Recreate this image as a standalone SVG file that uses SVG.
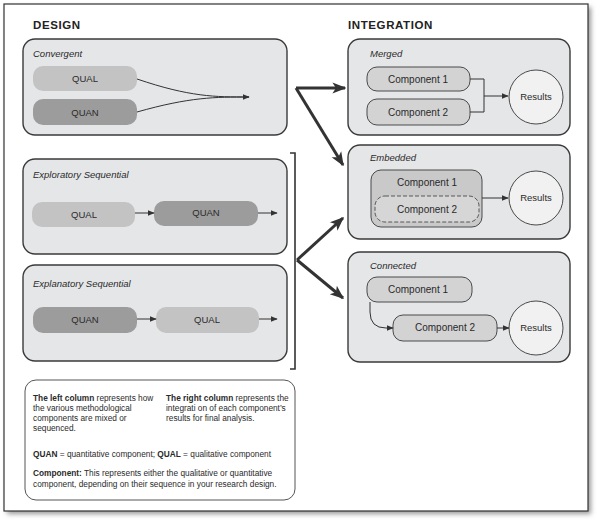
<svg xmlns="http://www.w3.org/2000/svg" width="597" height="521" viewBox="0 0 597 521">
<defs>
<filter id="sh" x="-5%" y="-5%" width="110%" height="110%"><feGaussianBlur stdDeviation="2.5"/></filter>
<marker id="a" viewBox="0 0 10 10" refX="9" refY="5" markerWidth="7" markerHeight="7" markerUnits="userSpaceOnUse" orient="auto"><path d="M0,1 L10,5 L0,9 Z" fill="#333"/></marker>
<marker id="A" viewBox="0 0 10 10" refX="9" refY="5" markerWidth="14" markerHeight="14" markerUnits="userSpaceOnUse" orient="auto"><path d="M0,1 L10,5 L0,9 L2.5,5 Z" fill="#333"/></marker>
<style>
.box{fill:#e5e6e8;stroke:#3a3a3a;stroke-width:1.4}
.ql{fill:#c3c3c3}
.qn{fill:#9c9c9c}
.cp{fill:#d3d3d3;stroke:#4a4a4a;stroke-width:1}
.res{fill:#f1f1f1;stroke:#4a4a4a;stroke-width:1}
.t{font-family:"Liberation Sans",Arial,sans-serif;fill:#2a2a2a}
.h{font-family:"Liberation Sans",Arial,sans-serif;font-weight:bold;font-size:11.5px;letter-spacing:0.6px;fill:#222}
.lab{font-style:italic;font-size:9.5px}
.pt{font-size:9.5px;text-anchor:middle}
.ct{font-size:10px;text-anchor:middle}
.lg{font-size:8.3px}
.thin{fill:none;stroke:#333;stroke-width:1}
.thick{fill:none;stroke:#333;stroke-width:3}
</style>
</defs>
<rect x="7" y="7" width="584" height="507" fill="#999" filter="url(#sh)"/>
<rect x="4" y="4" width="584" height="507" fill="#fff" stroke="#333" stroke-width="1.2"/>
<text class="h" x="33" y="29">DESIGN</text>
<text class="h" x="348" y="29">INTEGRATION</text>

<g id="convergent">
<rect class="box" x="23" y="39" width="264" height="96" rx="12"/>
<text class="t lab" x="33" y="57">Convergent</text>
<rect class="ql" x="33" y="66" width="104" height="25" rx="10"/>
<text class="t pt" x="85" y="82">QUAL</text>
<rect class="qn" x="33" y="99" width="104" height="26" rx="10"/>
<text class="t pt" x="85" y="116">QUAN</text>
</g>

<g id="exploratory">
<rect class="box" x="23" y="159" width="264" height="95" rx="12"/>
<text class="t lab" x="33" y="178">Exploratory Sequential</text>
<rect class="ql" x="32" y="202" width="103" height="25" rx="10"/>
<text class="t pt" x="84" y="218">QUAL</text>
<rect class="qn" x="154" y="201" width="104" height="25" rx="10"/>
<text class="t pt" x="206" y="216">QUAN</text>
</g>

<g id="explanatory">
<rect class="box" x="23" y="265" width="264" height="96" rx="12"/>
<text class="t lab" x="33" y="287">Explanatory Sequential</text>
<rect class="qn" x="33" y="307" width="104" height="26" rx="10"/>
<text class="t pt" x="85" y="323">QUAN</text>
<rect class="ql" x="156" y="307" width="103" height="26" rx="10"/>
<text class="t pt" x="207" y="323">QUAL</text>
</g>

<g id="merged">
<rect class="box" x="348" y="39" width="222" height="96" rx="12"/>
<text class="t lab" x="370" y="57">Merged</text>
<rect class="cp" x="367" y="67" width="103" height="24" rx="10"/>
<text class="t ct" x="418" y="83">Component 1</text>
<rect class="cp" x="367" y="99" width="103" height="26" rx="10"/>
<text class="t ct" x="418" y="116">Component 2</text>
<circle class="res" cx="536" cy="97" r="27"/>
<text class="t pt" x="536" y="100">Results</text>
</g>

<g id="embedded">
<rect class="box" x="348" y="145" width="222" height="94" rx="12"/>
<text class="t lab" x="370" y="161">Embedded</text>
<rect x="371" y="170" width="111" height="57" rx="10" fill="#c9c9c9" stroke="#4a4a4a" stroke-width="1"/>
<text class="t ct" x="427" y="186">Component 1</text>
<rect x="375" y="196" width="104" height="26" rx="10" fill="#d6d6d6" stroke="#4a4a4a" stroke-width="0.9" stroke-dasharray="4,2"/>
<text class="t ct" x="427" y="213">Component 2</text>
<circle class="res" cx="536" cy="198" r="27"/>
<text class="t pt" x="536" y="201">Results</text>
</g>

<g id="connected">
<rect class="box" x="348" y="252" width="222" height="110" rx="12"/>
<text class="t lab" x="370" y="269">Connected</text>
<rect class="cp" x="367" y="277" width="105" height="25" rx="10"/>
<text class="t ct" x="418" y="293">Component 1</text>
<rect class="cp" x="393" y="315" width="104" height="26" rx="10"/>
<text class="t ct" x="445" y="331">Component 2</text>
<circle class="res" cx="536" cy="328" r="27"/>
<text class="t pt" x="536" y="331">Results</text>
</g>

<g id="legend">
<rect x="25" y="380" width="270" height="120" rx="11" fill="#fff" stroke="#555" stroke-width="1"/>
<text class="t lg" x="33" y="401"><tspan font-weight="bold">The left column</tspan> represents how</text>
<text class="t lg" x="33" y="411">the various methodological</text>
<text class="t lg" x="33" y="421">components are mixed or</text>
<text class="t lg" x="33" y="431">sequenced.</text>
<text class="t lg" x="166" y="401"><tspan font-weight="bold">The right column</tspan> represents the</text>
<text class="t lg" x="166" y="411">integrati on of each component’s</text>
<text class="t lg" x="166" y="421">results for final analysis.</text>
<text class="t lg" x="33" y="457"><tspan font-weight="bold">QUAN</tspan> = quantitative component; <tspan font-weight="bold">QUAL</tspan> = qualitative component</text>
<text class="t lg" x="33" y="476"><tspan font-weight="bold">Component:</tspan> This represents either the qualitative or quantitative</text>
<text class="t lg" x="33" y="487">component, depending on their sequence in your research design.</text>
</g>

<g id="connectors">
<path class="thin" d="M137,79 C190,97 215,97 249,97" marker-end="url(#a)"/>
<path class="thin" d="M137,112 C190,97 215,97 249,97"/>
<path class="thin" d="M135,213 L154,213" marker-end="url(#a)"/>
<path class="thin" d="M258,213 L277,213" marker-end="url(#a)"/>
<path class="thin" d="M137,319 L156,319" marker-end="url(#a)"/>
<path class="thin" d="M259,319 L277,319" marker-end="url(#a)"/>
<path class="thin" d="M470,79 L484,79 L484,112 L470,112"/>
<path class="thin" d="M484,96 L508,96" marker-end="url(#a)"/>
<path class="thin" d="M482,198 L508,198" marker-end="url(#a)"/>
<path class="thin" d="M370,302 L370,312 Q370,328 386,328 L393,328" marker-end="url(#a)"/>
<path class="thin" d="M497,328 L509,328" marker-end="url(#a)"/>
<path fill="none" stroke="#333" stroke-width="1.6" d="M290,153 L295,153 L295,369 L290,369"/>
<path class="thick" d="M296,88 L345,88" marker-end="url(#A)"/>
<path class="thick" d="M296,88 L343,165" marker-end="url(#A)"/>
<path class="thick" d="M297,260 L343,218" marker-end="url(#A)"/>
<path class="thick" d="M297,260 L343,298" marker-end="url(#A)"/>
</g>
</svg>
